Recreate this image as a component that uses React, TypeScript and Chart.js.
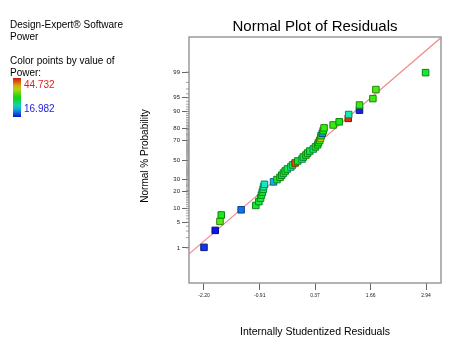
import React, { useEffect, useRef } from 'react';
import { Chart, registerables } from 'chart.js';
Chart.register(...registerables);

// Internally studentized residuals (sorted)
const residuals = [
  -2.20, -1.94, -1.83, -1.80, -1.34, -1.00, -0.93, -0.89, -0.87, -0.85,
  -0.83, -0.82, -0.80, -0.59, -0.51, -0.44, -0.40, -0.36, -0.32, -0.27,
  -0.19, -0.15, -0.09, -0.03, 0.07, 0.10, 0.16, 0.20, 0.25, 0.33,
  0.38, 0.43, 0.45, 0.48, 0.50, 0.51, 0.54, 0.56, 0.58, 0.79,
  0.93, 1.14, 1.15, 1.40, 1.40, 1.71, 1.78, 2.93,
];
// Normal % probability of each point
const normalProbability = [
  1.04, 3.13, 5.21, 7.29, 9.38, 11.46, 13.54, 15.63, 17.71, 19.79,
  21.88, 23.96, 26.04, 28.13, 30.21, 32.29, 34.38, 36.46, 38.54, 40.63,
  42.71, 44.79, 46.88, 48.96, 51.04, 53.13, 55.21, 57.29, 59.38, 61.46,
  63.54, 65.63, 67.71, 69.79, 71.88, 73.96, 76.04, 78.13, 80.21, 82.29,
  84.38, 86.46, 88.54, 90.63, 92.71, 94.79, 96.88, 98.96,
];
// Power value of each point (estimated from colour)
const powerValues = [
  18, 17, 33, 31, 20, 30, 30, 29.5, 30, 30,
  29, 26.5, 25.5, 22, 30, 31, 30, 29, 31, 29,
  26, 30, 43, 31, 26, 30, 31, 30, 30, 27,
  31, 30, 31, 32, 39, 31, 21, 31, 32, 32,
  31, 44, 26, 17.5, 32, 32, 32.5, 30,
];
const powerMin = 16.982;
const powerMax = 44.732;

const yTickProbabilities = [1, 5, 10, 20, 30, 50, 70, 80, 90, 95, 99];
const yTickLabels = ['1', '5', '10', '20', '30', '50', '70', '80', '90', '95', '99'];
const yMinorProbabilities = Array.from({ length: 99 }, (_, i) => i + 1);
const xTickValues = [-2.20, -0.91, 0.37, 1.66, 2.94];
const xTickLabels = ['-2.20', '-0.91', '0.37', '1.66', '2.94'];

const fitLineResidual = [-2.55, 3.29];
const fitLineProbability = [0.64, 99.94];

const xMin = -2.547;
const xMax = 3.287;
const zLimit = 3.254;

const FONT = '"Liberation Sans", Arial, Helvetica, sans-serif';

function probit(p: number): number {
  const a = [-3.969683028665376e1, 2.209460984245205e2, -2.759285104469687e2, 1.38357751867269e2, -3.066479806614716e1, 2.506628277459239];
  const b = [-5.447609879822406e1, 1.615858368580409e2, -1.556989798598866e2, 6.680131188771972e1, -1.328068155288572e1];
  const c = [-7.784894002430293e-3, -3.223964580411365e-1, -2.400758277161838, -2.549732539343734, 4.374664141464968, 2.938163982698783];
  const d = [7.784695709041462e-3, 3.224671290700398e-1, 2.445134137142996, 3.754408661907416];
  const pl = 0.02425;
  let q: number, r: number;
  if (p < pl) {
    q = Math.sqrt(-2 * Math.log(p));
    return (((((c[0] * q + c[1]) * q + c[2]) * q + c[3]) * q + c[4]) * q + c[5]) / ((((d[0] * q + d[1]) * q + d[2]) * q + d[3]) * q + 1);
  }
  if (p > 1 - pl) {
    q = Math.sqrt(-2 * Math.log(1 - p));
    return -(((((c[0] * q + c[1]) * q + c[2]) * q + c[3]) * q + c[4]) * q + c[5]) / ((((d[0] * q + d[1]) * q + d[2]) * q + d[3]) * q + 1);
  }
  q = p - 0.5;
  r = q * q;
  return (((((a[0] * r + a[1]) * r + a[2]) * r + a[3]) * r + a[4]) * r + a[5]) * q / (((((b[0] * r + b[1]) * r + b[2]) * r + b[3]) * r + b[4]) * r + 1);
}

function powerColor(v: number, light: number): string {
  let t = (v - powerMin) / (powerMax - powerMin);
  t = Math.max(0, Math.min(1, t));
  const hue = 240 * (1 - t);
  return `hsl(${hue.toFixed(1)}, 85%, ${light}%)`;
}

const decorPlugin = {
  id: 'decor',
  afterDraw(chart: any) {
    const ctx = chart.ctx as CanvasRenderingContext2D;
    const { left, right, top, bottom } = chart.chartArea;
    const yScale = chart.scales.y;
    ctx.save();
    // frame
    ctx.strokeStyle = '#9a9a9a';
    ctx.lineWidth = 1.5;
    ctx.strokeRect(left, top, right - left, bottom - top);
    // minor ticks on probability axis
    ctx.strokeStyle = '#8a8a8a';
    ctx.lineWidth = 0.8;
    ctx.beginPath();
    for (const p of yMinorProbabilities) {
      const y = yScale.getPixelForValue(probit(p / 100));
      ctx.moveTo(left, y);
      ctx.lineTo(left - 3, y);
    }
    ctx.stroke();

    // texts
    ctx.fillStyle = '#000';
    ctx.textBaseline = 'middle';
    ctx.textAlign = 'left';
    ctx.font = `10px ${FONT}`;
    ctx.fillText('Design-Expert® Software', 10, 25);
    ctx.fillText('Power', 10, 37);
    ctx.fillText('Color points by value of', 10, 61);
    ctx.fillText('Power:', 10, 73);
    // colour bar
    const barTop = 78, barBottom = 117;
    const grad = ctx.createLinearGradient(0, barTop, 0, barBottom);
    for (let i = 0; i <= 10; i++) {
      const v = powerMax - (powerMax - powerMin) * (i / 10);
      grad.addColorStop(i / 10, powerColor(v, 45));
    }
    ctx.fillStyle = grad;
    ctx.fillRect(13, barTop, 8, barBottom - barTop);
    ctx.fillStyle = '#e02020';
    ctx.fillText(powerMax.toFixed(3), 24, 85);
    ctx.fillStyle = '#2222e0';
    ctx.fillText(powerMin.toFixed(3), 24, 109);

    // title
    ctx.fillStyle = '#000';
    ctx.textAlign = 'center';
    ctx.font = `15px ${FONT}`;
    ctx.fillText('Normal Plot of Residuals', (left + right) / 2, 27);
    // x title
    ctx.font = `10.5px ${FONT}`;
    ctx.fillText('Internally Studentized Residuals', (left + right) / 2, 332);
    // y title
    ctx.save();
    ctx.translate(145, 156);
    ctx.rotate(-Math.PI / 2);
    ctx.font = `10px ${FONT}`;
    ctx.fillText('Normal % Probability', 0, 0);
    ctx.restore();
    ctx.restore();
  },
};

export default function App() {
  const ref = useRef<HTMLCanvasElement | null>(null);
  useEffect(() => {
    if (!ref.current) return;
    const points = residuals.map((r, i) => ({ x: r, y: probit(normalProbability[i] / 100) }));
    const line = fitLineResidual.map((r, i) => ({ x: r, y: probit(fitLineProbability[i] / 100) }));
    const chart = new Chart(ref.current, {
      type: 'scatter',
      data: {
        datasets: [
          {
            type: 'line',
            data: line,
            borderColor: '#f08a8a',
            borderWidth: 1.2,
            pointRadius: 0,
            showLine: true,
            fill: false,
            order: 2,
          } as any,
          {
            data: points,
            pointStyle: 'rect',
            pointRadius: 4.6,
            backgroundColor: powerValues.map((v) => powerColor(v, 50)),
            borderColor: powerValues.map((v) => powerColor(v, 28)),
            borderWidth: 1,
            order: 1,
          },
        ],
      },
      options: {
        animation: false,
        responsive: false,
        events: [],
        layout: { padding: { top: 37, right: 33, left: 0, bottom: 0 } },
        plugins: { legend: { display: false }, title: { display: false }, tooltip: { enabled: false } },
        scales: {
          x: {
            type: 'linear',
            min: xMin,
            max: xMax,
            afterFit: (s: any) => { s.height = 72; },
            afterBuildTicks: (s: any) => { s.ticks = xTickValues.map((v) => ({ value: v })); },
            border: { display: false },
            grid: { drawOnChartArea: false, drawTicks: true, tickLength: 7, color: '#666', lineWidth: 1 },
            ticks: {
              autoSkip: false,
              maxRotation: 0,
              padding: 3,
              color: '#222',
              font: { size: 5, family: FONT },
              callback: (_v: any, i: number) => xTickLabels[i],
            },
          },
          y: {
            type: 'linear',
            min: -zLimit,
            max: zLimit,
            afterFit: (s: any) => { s.width = 189; },
            afterBuildTicks: (s: any) => { s.ticks = yTickProbabilities.map((p) => ({ value: probit(p / 100) })); },
            border: { display: false },
            grid: { drawOnChartArea: false, drawTicks: true, tickLength: 7, color: '#666', lineWidth: 1 },
            ticks: {
              autoSkip: false,
              padding: 2,
              color: '#222',
              font: { size: 6, family: FONT },
              callback: (_v: any, i: number) => yTickLabels[i],
            },
          },
        },
      },
      plugins: [decorPlugin],
    });
    return () => chart.destroy();
  }, []);
  return (
    <div style={{ position: 'fixed', left: 0, top: 0, width: 474, height: 355, background: '#fff' }}>
      <canvas ref={ref} width={474} height={355} style={{ width: 474, height: 355 }} />
    </div>
  );
}
